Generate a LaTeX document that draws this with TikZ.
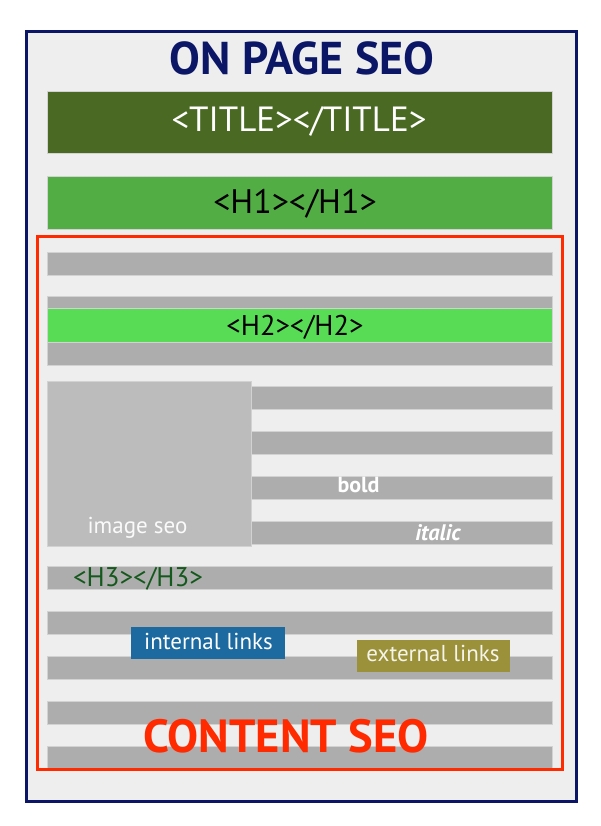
\documentclass[tikz,border=0pt]{standalone}
\usepackage{fontspec}
\setmainfont{PT Sans}
\definecolor{navy}{HTML}{0B1766}
\definecolor{pagebg}{HTML}{EEEEEE}
\definecolor{titlegreen}{HTML}{4A6A23}
\definecolor{hone}{HTML}{52AE44}
\definecolor{htwo}{HTML}{58DC56}
\definecolor{barg}{HTML}{ADADAE}
\definecolor{barline}{HTML}{D2D2D2}
\definecolor{imgg}{HTML}{BCBCBC}
\definecolor{redc}{HTML}{FF2A00}
\definecolor{hthree}{HTML}{15581C}
\definecolor{intl}{HTML}{1C6AA0}
\definecolor{extl}{HTML}{9B913A}
\tikzset{
  bar/.style={fill=barg,draw=barline,line width=0.8pt},
  lbl/.style={anchor=base,inner sep=0pt,font=\fontsize{#1}{#1}\selectfont},
}
\begin{document}
\begin{tikzpicture}[x=1pt,y=-1pt]
\useasboundingbox (0,0) rectangle (600,826);
\fill[white] (0,0) rectangle (600,826);
% outer page
\draw[navy,line width=3pt,fill=pagebg] (26,32) rectangle (576,801);
\node[lbl=47,text=navy,font=\bfseries\fontsize{46}{46}\selectfont] (head) at (302,75) {ON PAGE SEO};
% title bar
\path[fill=titlegreen,draw=barline,line width=0.8pt] (47,91) rectangle (552,153);
\node[lbl=35,text=white] (title) at (299,132) {<TITLE></TITLE>};
% h1 bar
\path[fill=hone,draw=barline,line width=0.8pt] (47,176) rectangle (552,229);
\node[lbl=34,text=black] (h1) at (295,214) {<H1></H1>};
% content bars
\path[bar] (47,252) rectangle (552,275);
\path[bar] (47,296) rectangle (552,365);
\path[fill=htwo,draw=barline,line width=0.8pt] (47,308) rectangle (552,342);
\node[lbl=28.5,text=black] (h2) at (295,335) {<H2></H2>};
% right bars beside image
\path[bar] (251,386) rectangle (552,409);
\path[bar] (251,431) rectangle (552,454);
\path[bar] (251,476) rectangle (552,499);
\path[bar] (251,521) rectangle (552,544);
% image
\path[fill=imgg,draw=barline,line width=0.8pt] (47,381) rectangle (251,546);
\node[lbl=23,text=white!92!imgg] (img) at (137.5,533) {image seo};
\node[lbl=22,text=white,font=\bfseries\fontsize{22}{22}\selectfont] (bold) at (358.5,492) {bold};
\node[lbl=23,text=white,font=\bfseries\itshape\fontsize{22.5}{22.5}\selectfont] (ital) at (438,540) {italic};
% lower bars
\path[bar] (47,566) rectangle (552,589);
\node[lbl=27,text=hthree] (h3) at (138,586) {<H3></H3>};
\path[bar] (47,611) rectangle (552,634);
\path[bar] (47,656) rectangle (552,679);
\path[bar] (47,701) rectangle (552,724);
\path[bar] (47,746) rectangle (552,768);
% links
\path[fill=intl] (131,627) rectangle (285,659);
\node[lbl=23,text=white] (int) at (208.5,649) {internal links};
\path[fill=extl] (357,640) rectangle (510,672);
\node[lbl=23,text=white!90!extl] (ext) at (433,661.5) {external links};
% content seo frame
\draw[redc,line width=3pt] (37.5,236) rectangle (562,769.5);
\node[lbl=46,text=redc,font=\bfseries\fontsize{46.5}{46.5}\selectfont] (content) at (286,752) {CONTENT SEO};
\end{tikzpicture}
\end{document}
